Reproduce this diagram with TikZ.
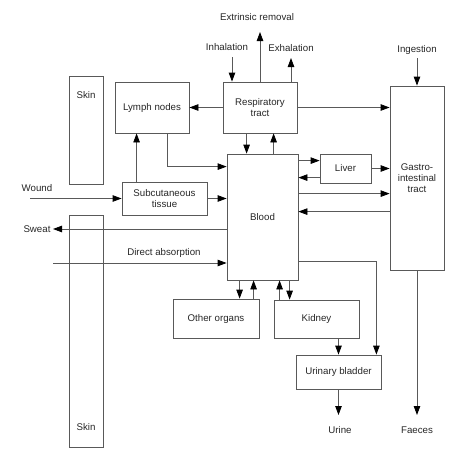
\documentclass[tikz,border=0pt]{standalone}
\usepackage{fontspec}
\setmainfont{Liberation Sans}
\usetikzlibrary{arrows.meta,positioning}

\begin{document}
\begin{tikzpicture}[x=1pt,y=-1pt,
  box/.style={rectangle,draw=black!65,line width=0.8pt,align=center,inner sep=0pt,font=\fontsize{9.7}{11}\selectfont,text=black!85},
  arr/.style={draw=black!65,line width=0.8pt,-{Triangle[length=9pt,width=6.5pt,color=black]}},
  lbl/.style={font=\fontsize{9.7}{11}\selectfont,text=black!85,inner sep=0pt}]
\useasboundingbox (0,0) rectangle (474,474);

% boxes
\node[box,minimum width=34pt,minimum height=108pt,label={[lbl,anchor=center,yshift=-19pt]north:Skin}] (skintop) at (86,130) {};
\node[box,minimum width=34pt,minimum height=232pt,label={[lbl,anchor=center,yshift=20pt]south:Skin}] (skinbot) at (86,331) {};
\node[box,minimum width=74pt,minimum height=51pt] (lymph) at (152,107.5) {Lymph nodes};
\node[box,minimum width=74pt,minimum height=51pt] (resp) at (260,107.5) {Respiratory\\tract};
\node[box,minimum width=71pt,minimum height=126pt] (blood) at (262.5,217) {Blood};
\node[box,minimum width=85pt,minimum height=33pt] (subcut) at (164.5,198.5) {Subcutaneous\\tissue};
\node[box,minimum width=51pt,minimum height=29pt] (liver) at (345.5,168.5) {Liver};
\node[box,minimum width=54pt,minimum height=184pt] (gi) at (417,178) {Gastro-\\intestinal\\tract};
\node[box,minimum width=86pt,minimum height=39pt] (other) at (216,318.5) {Other organs};
\node[box,minimum width=85pt,minimum height=38pt] (kidney) at (316.5,319) {Kidney};
\node[box,minimum width=85pt,minimum height=34pt] (bladder) at (338.5,372) {Urinary bladder};

% texts
\node[lbl] (extr) at (257,17) {Extrinsic removal};
\node[lbl] (inhal) at (227,47) {Inhalation};
\node[lbl] (exhal) at (291,48) {Exhalation};
\node[lbl] (ingest) at (417,50) {Ingestion};
\node[lbl] (wound) at (37,188) {Wound};
\node[lbl] (sweat) at (37,229) {Sweat};
\node[lbl] (direct) at (164,253) {Direct absorption};
\node[lbl] (urine) at (340,430) {Urine};
\node[lbl] (faeces) at (417,430) {Faeces};

% free ends
\coordinate (extrend) at (260,32);
\coordinate (inhalend) at (232,57);
\coordinate (exhalend) at (291,58);
\coordinate (ingestend) at (417,58);
\coordinate (woundend) at (30,198.5);
\coordinate (sweatend) at (53,229);
\coordinate (directend) at (53,263);
\coordinate (urineend) at (338.5,415);
\coordinate (faecesend) at (417,415);

% connectors
\draw[arr] (resp.north) -- (extrend);
\draw[arr] (inhalend) -- (inhalend |- resp.north);
\draw[arr] (exhalend |- resp.north) -- (exhalend);
\draw[arr] (ingestend) -- (gi.north);
\draw[arr] (resp.west) -- (lymph.east);
\draw[arr] (resp.east) -- (resp.east -| gi.west);
\draw[arr] ([xshift=24pt]resp.south west) -- ([xshift=24pt]resp.south west |- blood.north);
\draw[arr] ([xshift=51pt]resp.south west |- blood.north) -- ([xshift=51pt]resp.south west);
\draw[arr] ([xshift=53pt]lymph.south west) |- ([yshift=-13pt]blood.north west);
\draw[arr] ([xshift=15pt]subcut.north west) -- ([xshift=15pt]subcut.north west |- lymph.south);
\draw[arr] (woundend) -- (subcut.west);
\draw[arr] (subcut.east) -- (subcut.east -| blood.west);
\draw[arr] (sweatend -| blood.west) -- (sweatend);
\draw[arr] (directend) -- (directend -| blood.west);
\draw[arr] ([yshift=-7pt]blood.north east) -- ([yshift=-7pt]blood.north east -| liver.west);
\draw[arr] ([yshift=-24pt]blood.north east -| liver.west) -- ([yshift=-24pt]blood.north east);
\draw[arr] (liver.east) -- (liver.east -| gi.west);
\draw[arr] ([yshift=-40pt]blood.north east) -- ([yshift=-40pt]blood.north east -| gi.west);
\draw[arr] ([yshift=-58pt]blood.north east -| gi.west) -- ([yshift=-58pt]blood.north east);
\draw[arr] ([yshift=-108pt]blood.north east) -| ([xshift=-5pt]bladder.north east);
\draw[arr] ([xshift=13pt]blood.south west) -- ([xshift=13pt]blood.south west |- other.north);
\draw[arr] ([xshift=27pt]blood.south west |- other.north) -- ([xshift=27pt]blood.south west);
\draw[arr] ([xshift=6pt]kidney.north west) -- ([xshift=6pt]kidney.north west |- blood.south);
\draw[arr] ([xshift=16pt]kidney.north west |- blood.south) -- ([xshift=16pt]kidney.north west);
\draw[arr] (kidney.south -| bladder.north) -- (bladder.north);
\draw[arr] (bladder.south) -- (urineend);
\draw[arr] (gi.south) -- (faecesend);
\end{tikzpicture}
\end{document}
